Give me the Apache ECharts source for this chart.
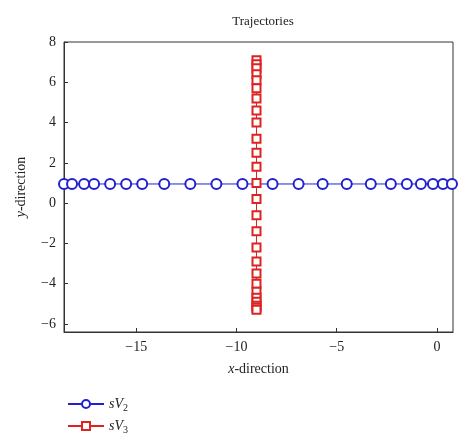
<!DOCTYPE html>
<html>
<head>
<meta charset="utf-8">
<script src="https://cdn.jsdelivr.net/npm/echarts@6/dist/echarts.min.js"></script>
<style>html,body{margin:0;padding:0;background:#fff}#main{width:474px;height:448px}</style>
</head>
<body>
<div id="main"></div>
<script>
// sV2: moves along x at y ~ 1
var sv2X = [-18.6, -18.2, -17.6, -17.1, -16.3, -15.5, -14.7, -13.6, -12.3, -11.0, -9.7, -8.2, -6.9, -5.7, -4.5, -3.3, -2.3, -1.5, -0.8, -0.2, 0.3, 0.75];
var sv2Y = 0.95;
// sV3: moves along y at x ~ -9
var sv3X = -9;
var sv3Y = [7.1, 6.9, 6.7, 6.4, 6.1, 5.7, 5.2, 4.6, 4.0, 3.2, 2.5, 1.8, 1.0, 0.2, -0.6, -1.4, -2.2, -2.9, -3.5, -4.0, -4.4, -4.7, -4.9, -5.1, -5.2, -5.3];
var xTicks = [-15, -10, -5, 0];
var yTicks = [-6, -4, -2, 0, 2, 4, 6, 8];

var serif = 'Liberation Serif';
var myChart = echarts.init(document.getElementById('main'));

var axisCommon = {
    axisLine: {onZero: false, lineStyle: {color: '#333', width: 1}},
    axisTick: {inside: true, length: 4, lineStyle: {color: '#333'}},
    splitLine: {show: false},
    axisLabel: {color: '#222', fontFamily: serif, fontSize: 14}
};

function minus(v) { return v < 0 ? '\u2212' + Math.abs(v) : v; }

myChart.setOption({
    animation: false,
    title: {
        text: 'Trajectories', left: 258, top: 10, textAlign: 'center',
        textStyle: {fontFamily: serif, fontWeight: 'normal', fontSize: 13, color: '#222'}
    },
    grid: {left: 64, right: 21, top: 42, bottom: 116, show: true, borderColor: '#333', borderWidth: 1},
    xAxis: Object.assign({}, axisCommon, {
        type: 'value', min: -18.6, max: 0.8,
        name: '{i|x}-direction', nameLocation: 'middle', nameGap: 30,
        nameTextStyle: {fontFamily: serif, fontSize: 14, color: '#222', rich: {i: {fontFamily: serif, fontStyle: 'italic', fontSize: 14}}},
        axisLabel: Object.assign({}, axisCommon.axisLabel, {customValues: xTicks, formatter: minus}),
        axisTick: Object.assign({}, axisCommon.axisTick, {customValues: xTicks})
    }),
    yAxis: Object.assign({}, axisCommon, {
        type: 'value', min: -6.4, max: 8,
        name: '{i|y}-direction', nameLocation: 'middle', nameGap: 36,
        nameTextStyle: {fontFamily: serif, fontSize: 14, color: '#222', rich: {i: {fontFamily: serif, fontStyle: 'italic', fontSize: 14}}},
        axisLabel: Object.assign({}, axisCommon.axisLabel, {customValues: yTicks, formatter: minus}),
        axisTick: Object.assign({}, axisCommon.axisTick, {customValues: yTicks})
    }),
    legend: {
        orient: 'vertical', left: 62, top: 392, itemGap: 6, itemWidth: 36, itemHeight: 10,
        data: ['sV2', 'sV3'],
        formatter: function (n) { return '{i|sV}{s|' + n.slice(2) + '}'; },
        textStyle: {
            fontFamily: serif, fontSize: 13, color: '#222',
            rich: {
                i: {fontFamily: serif, fontStyle: 'italic', fontSize: 14},
                s: {fontFamily: serif, fontSize: 10, padding: [8, 0, 0, 0]}
            }
        }
    },
    series: [
        {
            name: 'sV2', type: 'line',
            data: sv2X.map(function (x) { return [x, sv2Y]; }),
            symbol: 'emptyCircle', symbolSize: 10,
            lineStyle: {color: '#2222cc', width: 1},
            itemStyle: {color: '#2222cc', borderWidth: 1.5}
        },
        {
            name: 'sV3', type: 'line',
            data: sv3Y.map(function (y) { return [sv3X, y]; }),
            symbol: 'emptyRect', symbolSize: 8,
            lineStyle: {color: '#dd2222', width: 1},
            itemStyle: {color: '#dd2222', borderWidth: 1.5}
        }
    ]
});
</script>
</body>
</html>
